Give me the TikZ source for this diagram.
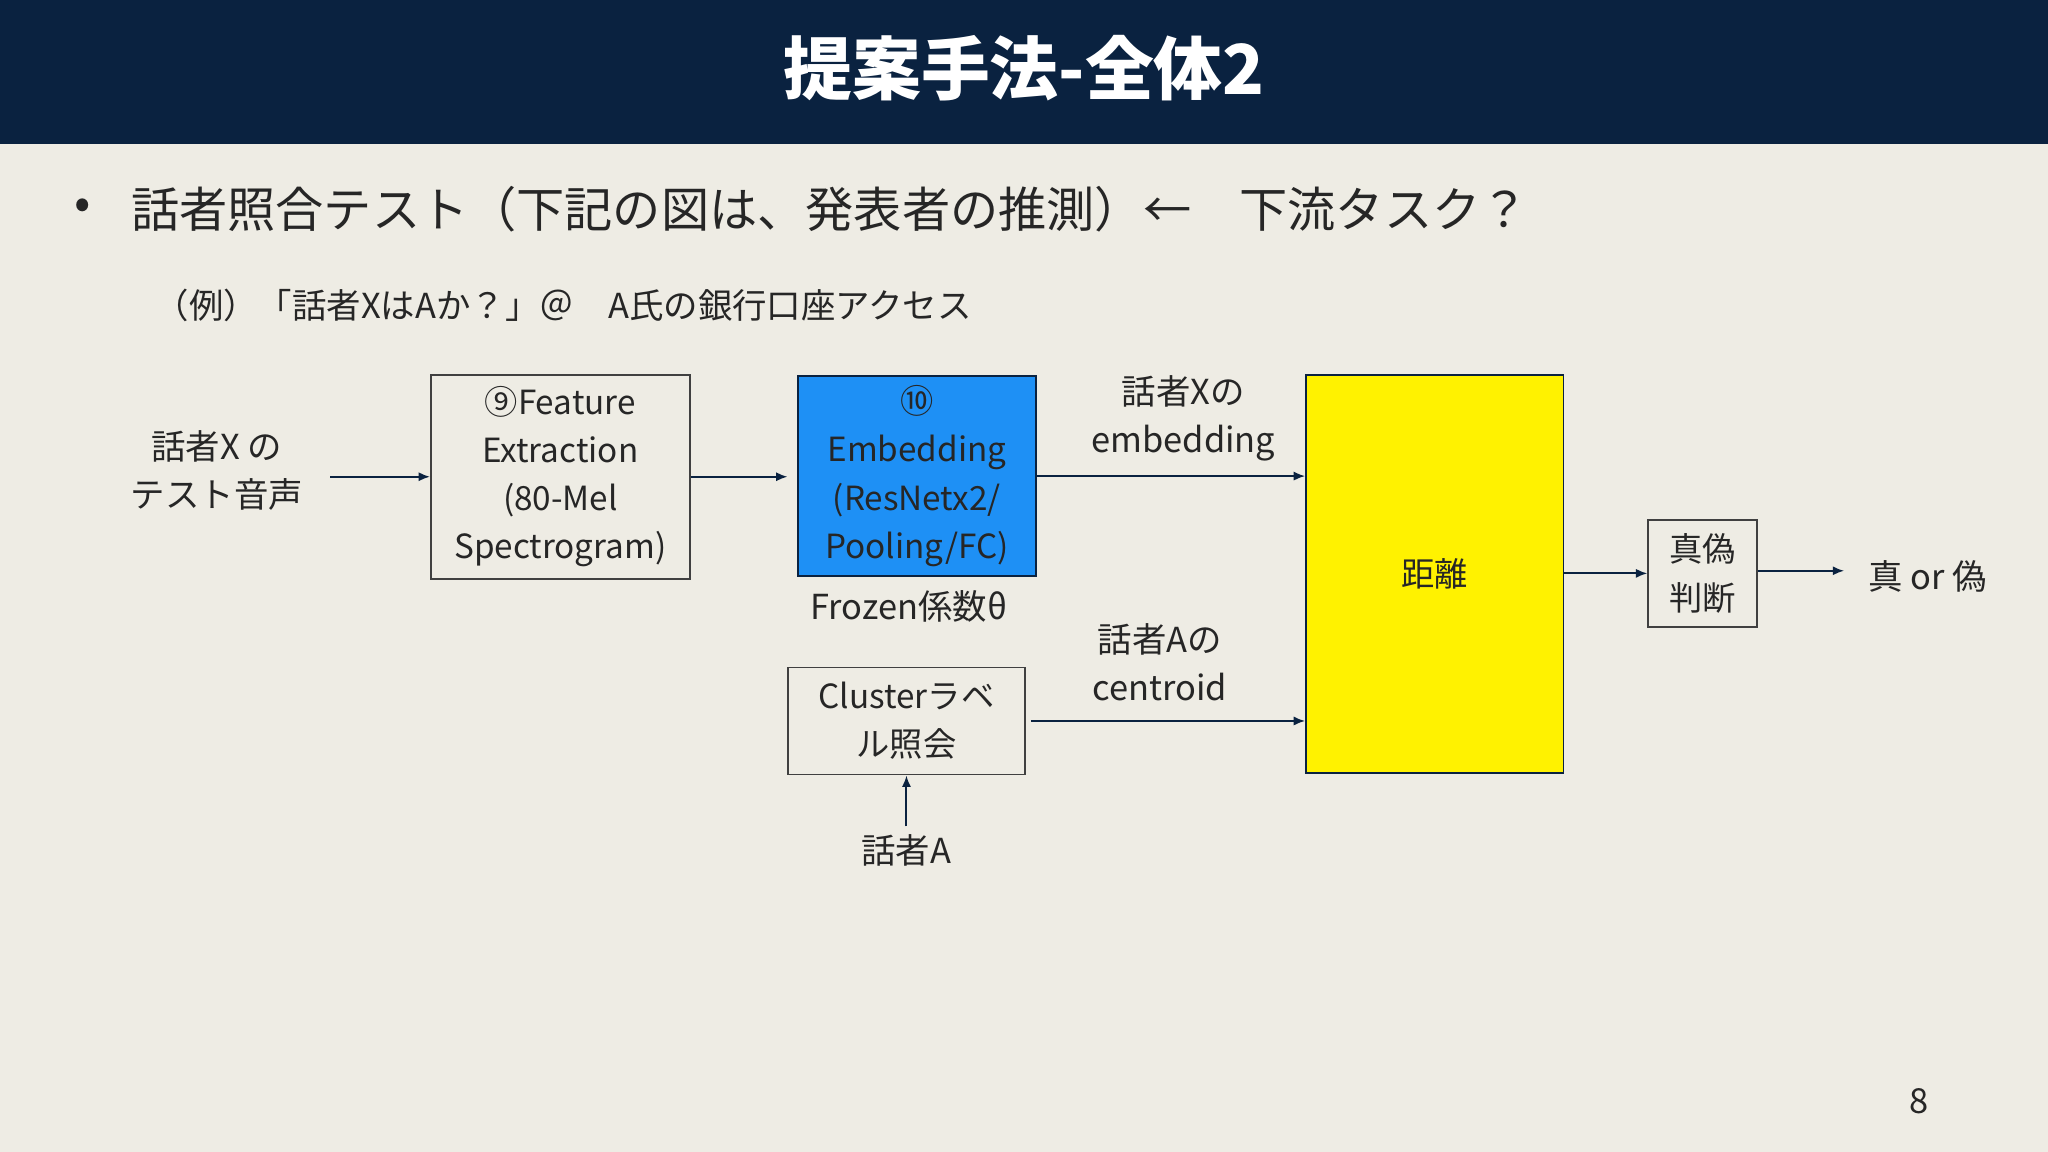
\documentclass[tikz,border=0pt]{standalone}
\usepackage{fontspec}
\setmainfont{Noto Sans CJK JP}
\usetikzlibrary{arrows.meta}
\definecolor{navy}{HTML}{0A2240}
\definecolor{bg}{HTML}{EEECE4}
\definecolor{txt}{HTML}{262626}
\definecolor{embblue}{HTML}{1E90F5}
\tikzset{
  box/.style={draw=black!75, line width=0.8pt, align=center, text=txt, font=\fontsize{14.5}{21}\selectfont, inner sep=0pt},
  lbl/.style={align=center, text=txt, font=\fontsize{15}{21}\selectfont},
  arr/.style={-{Latex[length=5pt,width=4pt]}, draw=navy, line width=0.9pt}
}
\begin{document}
\begin{tikzpicture}[x=0.02cm,y=-0.02cm]
\useasboundingbox (0,0) rectangle (1568,882);
\fill[bg] (0,0) rectangle (1568,882);
\fill[navy] (0,0) rectangle (1568,110);
\node[text=white, font=\fontsize{30}{36}\selectfont\bfseries] (title) at (784,52) {提案手法-全体2};
\node[text=txt, font=\fontsize{21}{26}\selectfont] (bul) at (63,160) {•};
\node[text=txt, anchor=west, font=\fontsize{21}{26}\selectfont, inner sep=0pt] (head) at (100,160) {話者照合テスト（下記の図は、発表者の推測）←\quad 下流タスク？};
\node[text=txt, anchor=west, font=\fontsize{15}{20}\selectfont, inner sep=0pt] (ex) at (118,234) {（例）「話者XはAか？」＠\quad A氏の銀行口座アクセス};

\node[box, minimum width=198*0.02cm, minimum height=156*0.02cm] (fe) at (429,365) {⑨Feature\\Extraction\\(80-Mel\\Spectrogram)};
\node[box, fill=embblue, draw=navy, minimum width=182*0.02cm, minimum height=153*0.02cm] (emb) at (702,364.5) {⑩\\Embedding\\(ResNetx2/\\Pooling/FC)};
\node[box, fill=yellow, draw=navy, minimum width=197*0.02cm, minimum height=305*0.02cm] (dist) at (1098.5,439.5) {距離};
\node[box, minimum width=182*0.02cm, minimum height=82*0.02cm] (clu) at (694,552) {Clusterラベ\\ル照会};
\node[box, minimum width=83*0.02cm, minimum height=82*0.02cm] (judge) at (1303.5,439) {真偽\\判断};

\node[lbl] (in) at (166,360) {話者X の\\テスト音声};
\node[lbl] (froz) at (696,464) {Frozen係数θ};
\node[lbl] (xe) at (906,320) {話者Xの\\embedding};
\node[lbl] (ac) at (888,507) {話者Aの\\centroid};
\node[lbl] (spa) at (694,651) {話者A};
\node[lbl] (out) at (1476,441) {真 or 偽};
\node[lbl] (pg) at (1469,843) {8};

\coordinate (a1) at (253,365);
\draw[arr] (a1) -- (fe.west);
\draw[arr] (fe.east) -- (603,365);
\draw[arr] (emb.east) -- (dist.west |- emb.east);
\draw[arr] ([xshift=2pt]clu.east) -- (dist.west |- clu.east);
\draw[arr] (dist.east |- judge.west) -- (judge.west);
\draw[arr] (judge.east |- 0,437) -- (1412,437) coordinate (oe);
\draw[arr] (spa.north) -- (clu.south);
\end{tikzpicture}
\end{document}
